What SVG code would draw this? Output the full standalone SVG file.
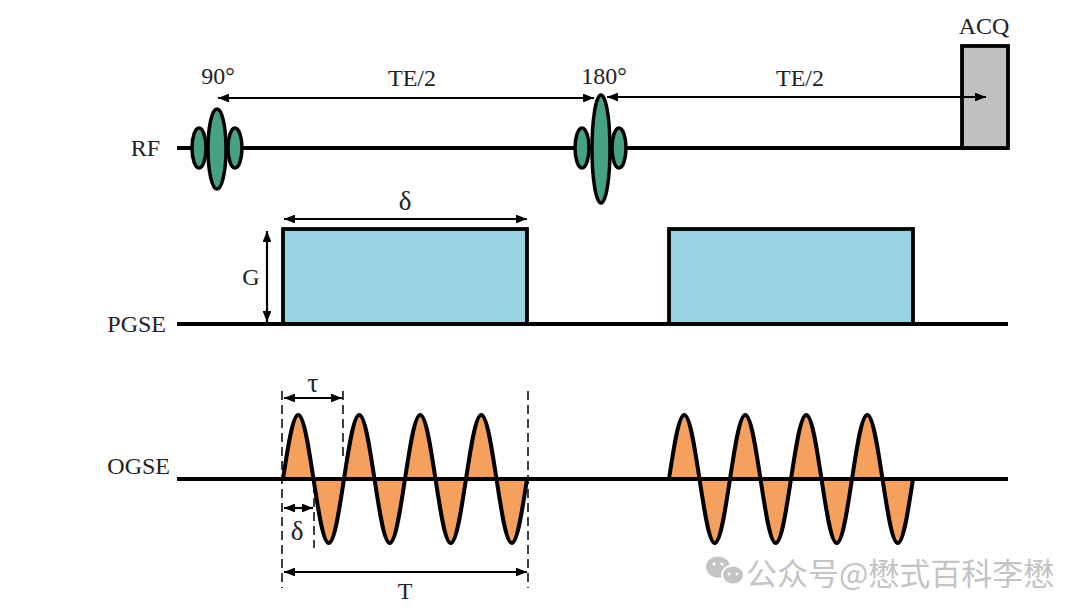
<svg xmlns="http://www.w3.org/2000/svg" width="1080" height="614" viewBox="0 0 1080 614">
<style>
.t{font-family:"Liberation Serif","Times New Roman",serif;font-size:24px;fill:#222}
.g{font-size:27px}
.base{stroke:#000;stroke-width:3.8;fill:none}
.pulse{fill:#45a283;stroke:#000;stroke-width:3.5}
.grad{fill:#98d3e3;stroke:#000;stroke-width:3.8}
.wave{fill:#f5a05c;stroke:#000;stroke-width:4;stroke-linejoin:round}
.arr{stroke:#000;stroke-width:2.2;fill:none;marker-start:url(#ah);marker-end:url(#ah)}
.dash{stroke:#000;stroke-width:1.5;stroke-dasharray:9 5;fill:none}
.wm{font-family:"Noto Sans CJK SC","Noto Sans",sans-serif;font-size:31px;fill:#c4c4c4}
</style>
<defs>
<marker id="ah" viewBox="0 0 10 8" refX="10" refY="4" markerWidth="5" markerHeight="4" orient="auto-start-reverse" markerUnits="strokeWidth">
<path d="M0,0 L10,4 L0,8 z" fill="#000"/>
</marker>
</defs>
<rect width="1080" height="614" fill="#fff"/>

<g id="labels">
<text class="t" x="160" y="156" text-anchor="end">RF</text>
<text class="t" x="166" y="332" text-anchor="end">PGSE</text>
<text class="t" x="170" y="474" text-anchor="end">OGSE</text>
<text class="t" x="218" y="84" text-anchor="middle">90°</text>
<text class="t" x="604" y="84" text-anchor="middle">180°</text>
<text class="t" x="412" y="86" text-anchor="middle">TE/2</text>
<text class="t" x="800" y="86" text-anchor="middle">TE/2</text>
<text class="t" x="984" y="34" text-anchor="middle">ACQ</text>
<text class="t g" x="405" y="210" text-anchor="middle">δ</text>
<text class="t" x="251" y="285" text-anchor="middle">G</text>
<text class="t g" x="313" y="392" text-anchor="middle">τ</text>
<text class="t g" x="297" y="540" text-anchor="middle">δ</text>
<text class="t" x="405" y="599" text-anchor="middle">T</text>
</g>

<g id="rf-row">
<line class="base" x1="177" y1="148" x2="1008" y2="148"/>
</g>
<g id="acq">
<rect x="962" y="46" width="46" height="102" fill="#c0c0c0" stroke="#000" stroke-width="3.8"/>
</g>
<g id="pulse90">
<ellipse class="pulse" cx="199" cy="148" rx="7" ry="20"/>
<ellipse class="pulse" cx="235" cy="148" rx="7" ry="20"/>
<ellipse class="pulse" cx="217" cy="149" rx="9" ry="40"/>
</g>
<g id="pulse180">
<ellipse class="pulse" cx="582" cy="148" rx="7" ry="20"/>
<ellipse class="pulse" cx="619" cy="148" rx="7" ry="20"/>
<ellipse class="pulse" cx="601" cy="149" rx="9" ry="54"/>
</g>

<g id="pgse-row">
<rect class="grad" x="283" y="229" width="244" height="95"/>
<rect class="grad" x="669" y="229" width="244" height="95"/>
<line class="base" x1="177" y1="324" x2="1008" y2="324"/>
</g>

<g id="ogse-row">
<path class="wave" d="M283,479 c4.97,-32.8 9.73,-64 15.25,-64 c5.52,0 10.28,31.2 15.25,64 c4.97,32.8 9.73,64 15.25,64 c5.52,0 10.28,-31.2 15.25,-64 c4.97,-32.8 9.73,-64 15.25,-64 c5.52,0 10.28,31.2 15.25,64 c4.97,32.8 9.73,64 15.25,64 c5.52,0 10.28,-31.2 15.25,-64 c4.97,-32.8 9.73,-64 15.25,-64 c5.52,0 10.28,31.2 15.25,64 c4.97,32.8 9.73,64 15.25,64 c5.52,0 10.28,-31.2 15.25,-64 c4.97,-32.8 9.73,-64 15.25,-64 c5.52,0 10.28,31.2 15.25,64 c4.97,32.8 9.73,64 15.25,64 c5.52,0 10.28,-31.2 15.25,-64 z"/>
<path class="wave" d="M669,479 c4.97,-32.8 9.73,-64 15.25,-64 c5.52,0 10.28,31.2 15.25,64 c4.97,32.8 9.73,64 15.25,64 c5.52,0 10.28,-31.2 15.25,-64 c4.97,-32.8 9.73,-64 15.25,-64 c5.52,0 10.28,31.2 15.25,64 c4.97,32.8 9.73,64 15.25,64 c5.52,0 10.28,-31.2 15.25,-64 c4.97,-32.8 9.73,-64 15.25,-64 c5.52,0 10.28,31.2 15.25,64 c4.97,32.8 9.73,64 15.25,64 c5.52,0 10.28,-31.2 15.25,-64 c4.97,-32.8 9.73,-64 15.25,-64 c5.52,0 10.28,31.2 15.25,64 c4.97,32.8 9.73,64 15.25,64 c5.52,0 10.28,-31.2 15.25,-64 z"/>
<line class="base" x1="177" y1="479" x2="1008" y2="479"/>
</g>

<g id="connectors">
<line class="arr" x1="218" y1="98" x2="594" y2="98"/>
<line class="arr" x1="607" y1="97" x2="986" y2="97"/>
<line class="arr" x1="284" y1="219" x2="527" y2="219"/>
<line class="arr" x1="267" y1="231" x2="267" y2="322"/>
<line class="arr" x1="284" y1="398" x2="342" y2="398"/>
<line class="arr" x1="284" y1="508" x2="313" y2="508"/>
<line class="arr" x1="284" y1="572" x2="527" y2="572"/>
<line class="dash" x1="282" y1="391" x2="282" y2="588"/>
<line class="dash" x1="528" y1="391" x2="528" y2="588"/>
<line class="dash" x1="343" y1="391" x2="343" y2="458"/>
<line class="dash" x1="314" y1="484" x2="314" y2="548"/>
</g>

<g id="watermark">
<ellipse cx="718" cy="567" rx="12" ry="10.5" fill="#c4c4c4"/>
<ellipse cx="733" cy="575" rx="11" ry="9.5" fill="#c4c4c4" stroke="#fff" stroke-width="2"/>
<circle cx="714" cy="564" r="1.6" fill="#fff"/>
<circle cx="722" cy="564" r="1.6" fill="#fff"/>
<circle cx="729" cy="574" r="1.4" fill="#fff"/>
<circle cx="737" cy="574" r="1.4" fill="#fff"/>
<text class="wm" x="746" y="585">公众号@懋式百科李懋</text>
</g>
</svg>
